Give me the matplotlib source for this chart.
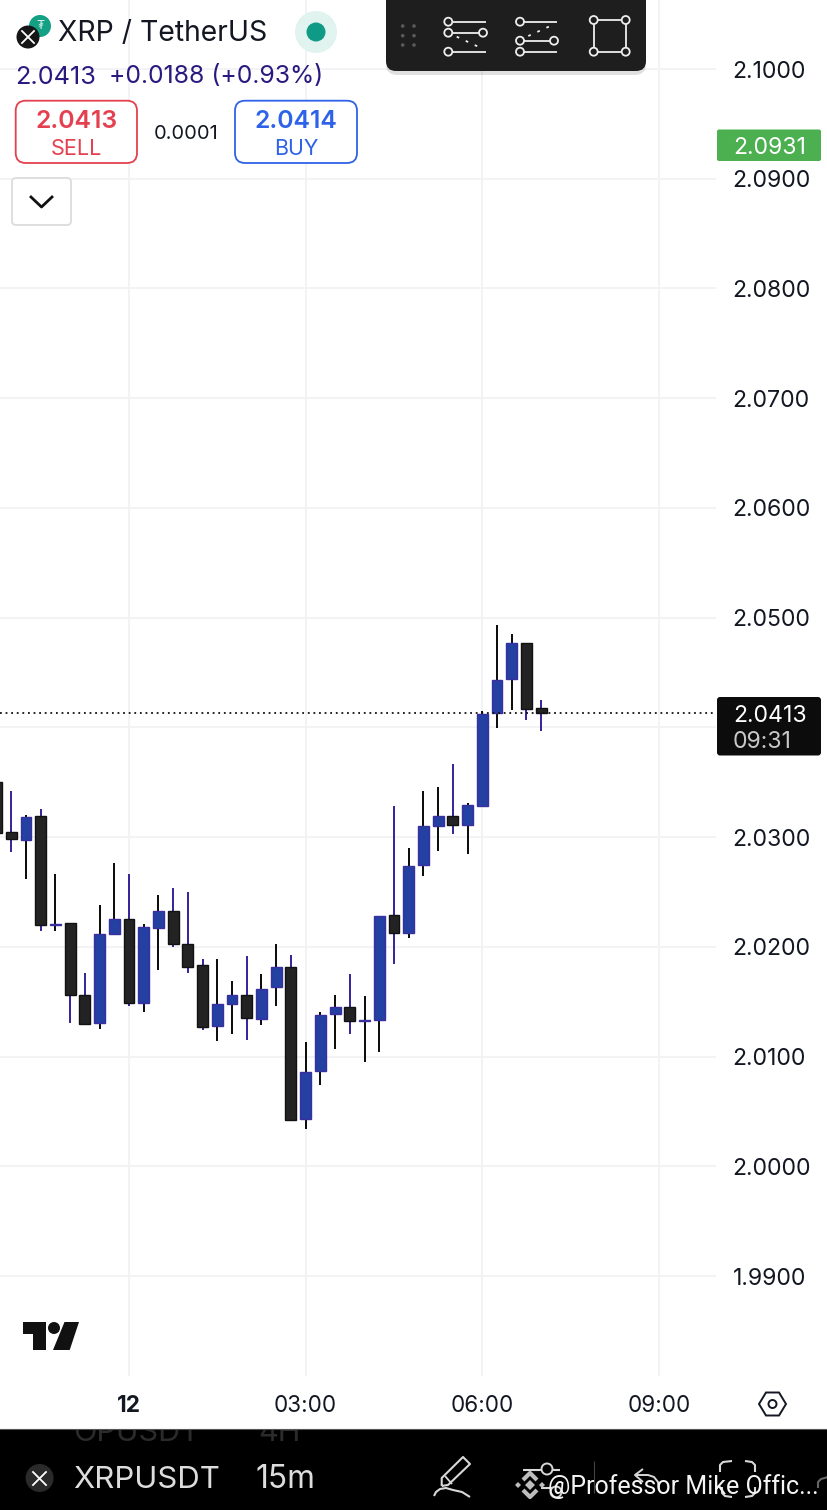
import numpy as np
import matplotlib
matplotlib.use("Agg")
import matplotlib.pyplot as plt
from matplotlib.patches import Circle, FancyBboxPatch, Polygon, Rectangle

plt.rcParams["font.family"] = ["Inter", "DejaVu Sans"]

# candle index, 0 = the "12" tick, one candle = 15 minutes
candle_pos = np.arange(-9, 29)
opens = [2.0350, 2.0305, 2.0297, 2.0319, 2.0220, 2.0222, 2.0156, 2.0131, 2.0212, 2.0225,
         2.0149, 2.0217, 2.0233, 2.0203, 2.0183, 2.0128, 2.0148, 2.0156, 2.0134, 2.0163,
         2.0182, 2.0043, 2.0087, 2.0139, 2.0145, 2.0132, 2.0133, 2.0229, 2.0213, 2.0275,
         2.0310, 2.0319, 2.0311, 2.0328, 2.0413, 2.0444, 2.0477, 2.0418]
closes = [2.0304, 2.0298, 2.0318, 2.0220, 2.0221, 2.0156, 2.0130, 2.0212, 2.0225, 2.0149,
          2.0218, 2.0233, 2.0203, 2.0182, 2.0127, 2.0148, 2.0156, 2.0135, 2.0162, 2.0182,
          2.0042, 2.0086, 2.0138, 2.0145, 2.0132, 2.0133, 2.0228, 2.0213, 2.0274, 2.0310,
          2.0319, 2.0311, 2.0329, 2.0412, 2.0443, 2.0477, 2.0417, 2.0413]
highs = [2.0352, 2.0342, 2.0320, 2.0326, 2.0266, 2.0222, 2.0176, 2.0238, 2.0276, 2.0266,
         2.0221, 2.0247, 2.0254, 2.0250, 2.0189, 2.0189, 2.0169, 2.0192, 2.0175, 2.0203,
         2.0193, 2.0113, 2.0141, 2.0156, 2.0175, 2.0155, 2.0228, 2.0328, 2.0290, 2.0342,
         2.0346, 2.0367, 2.0331, 2.0415, 2.0493, 2.0485, 2.0477, 2.0425]
lows = [2.0304, 2.0286, 2.0262, 2.0214, 2.0214, 2.0131, 2.0130, 2.0125, 2.0212, 2.0146,
        2.0141, 2.0179, 2.0200, 2.0176, 2.0124, 2.0114, 2.0121, 2.0115, 2.0129, 2.0146,
        2.0042, 2.0034, 2.0074, 2.0107, 2.0121, 2.0095, 2.0104, 2.0184, 2.0208, 2.0265,
        2.0287, 2.0303, 2.0285, 2.0328, 2.0399, 2.0416, 2.0407, 2.0397]

price_ticks = [2.10, 2.09, 2.08, 2.07, 2.06, 2.05, 2.04, 2.03, 2.02, 2.01, 2.00, 1.99]
# the 2.0400 label sits under the last-price tag
price_labels = ["2.1000", "2.0900", "2.0800", "2.0700", "2.0600", "2.0500", "",
                "2.0300", "2.0200", "2.0100", "2.0000", "1.9900"]
time_ticks = [0, 12, 24, 36]
time_labels = ["12", "03:00", "06:00", "09:00"]
last_price = 2.0413

W, H = 828, 1510
CHART_R, CHART_B = 716, 1376
PX_PER_PRICE = 10973.0
PX_PER_CANDLE = 14.72

UP_BODY = "#2340a2"
UP_EDGE = "#3a2f9e"
DOWN_BODY = "#232323"
DOWN_EDGE = "#111111"
UP_WICK = "#000000"
DOWN_WICK = "#2a1a96"

fig = plt.figure(figsize=(W / 100, H / 100), dpi=100, facecolor="white")
ax = fig.add_axes([0, (H - CHART_B) / H, CHART_R / W, CHART_B / H])
ax.set_xlim(-129 / PX_PER_CANDLE, (CHART_R - 129) / PX_PER_CANDLE)
ax.set_ylim(2.10 - (CHART_B - 69) / PX_PER_PRICE, 2.10 + 69 / PX_PER_PRICE)
for s in ax.spines.values():
    s.set_visible(False)
ax.grid(True, color="#f2f2f4", lw=1.3)
ax.set_axisbelow(True)

ax.yaxis.tick_right()
ax.set_yticks(price_ticks)
ax.set_yticklabels(price_labels)
ax.tick_params(axis="y", length=0, pad=12, labelsize=16.6, labelcolor="#131722")
ax.set_xticks(time_ticks)
ax.set_xticklabels(time_labels)
ax.tick_params(axis="x", length=0, pad=14, labelsize=16.2, labelcolor="#131722")
ax.get_xticklabels()[0].set_fontweight("bold")

o = np.array(opens)
c = np.array(closes)
is_up = c >= o
ax.vlines(candle_pos, lows, highs, colors=[UP_WICK if u else DOWN_WICK for u in is_up],
          lw=1.35, zorder=3)
ax.bar(candle_pos, np.abs(c - o), bottom=np.minimum(o, c), width=0.74,
       color=[UP_BODY if u else DOWN_BODY for u in is_up],
       edgecolor=[UP_EDGE if u else DOWN_EDGE for u in is_up], lw=1.0, zorder=4)
ax.axhline(last_price, color="#111111", lw=1.3, ls=(0, (1, 2.1)), zorder=5)

# everything that is not the chart goes in a pixel-coordinate layer on top
ui = fig.add_axes([0, 0, 1, 1], facecolor="none")
ui.set_xlim(0, W)
ui.set_ylim(H, 0)
ui.axis("off")


def box(x0, y0, x1, y1, r=0, fc="none", ec="none", lw=1.0, z=2, alpha=None):
    p = FancyBboxPatch((x0 + r, y0 + r), x1 - x0 - 2 * r, y1 - y0 - 2 * r,
                       boxstyle="round,pad=%g,rounding_size=%g" % (r, r),
                       fc=fc, ec=ec, lw=lw, zorder=z, alpha=alpha)
    ui.add_patch(p)


def dot(x, y, r, fc, ec="none", lw=1.0, z=3):
    ui.add_patch(Circle((x, y), r, fc=fc, ec=ec, lw=lw, zorder=z))


def label(x, y, s, size, color, ha="left", weight="normal", z=6, family=None):
    # va center sits a bit high for digits and caps, so nudge it down
    return ui.text(x, y + 2, s, fontsize=size, color=color, ha=ha, va="center",
                   fontweight=weight, zorder=z, family=family or plt.rcParams["font.family"])


def seg(xs, ys, ls="-", lw=1.3, color="#eeeeee", z=4):
    ui.plot(xs, ys, color=color, lw=lw, ls=ls, zorder=z, solid_capstyle="butt")


# header
dot(40, 26, 11, "#14a085")
label(40, 24, "₮", 9, "#d8f0ea", ha="center")
dot(28, 37, 11.5, "#161616", z=4)
ui.plot([22, 34], [31, 43], color="white", lw=1.3, zorder=5)
ui.plot([22, 34], [43, 31], color="white", lw=1.3, zorder=5)
label(58, 32, "XRP / TetherUS", 20.4, "#131722")
dot(316, 32, 21, "#e0f3ef")
dot(316, 32, 9.5, "#0f9a85", z=4)
label(15, 75, "2.0413", 18.2, "#2a1a80")
label(109, 75, "+0.0188 (+0.93%)", 17.8, "#2a1a80")

box(15.7, 100.7, 137, 163, r=10, fc="white", ec="#e5404f", lw=1.3)
label(77, 120, "2.0413", 17.8, "#e5404f", ha="center", weight="semibold")
label(76, 147, "SELL", 15.6, "#e5404f", ha="center")
label(186, 132, "0.0001", 14.4, "#131722", ha="center")
box(235, 100.7, 357, 163, r=10, fc="white", ec="#2e62e8", lw=1.3)
label(296, 120, "2.0414", 17.8, "#2e62e8", ha="center", weight="semibold")
label(296, 147, "BUY", 15.4, "#2e62e8", ha="center")
box(12, 178, 71, 225, r=4, fc="white", ec="#dcdcdc", lw=1.3)
ui.plot([31, 41.5, 52], [197, 207, 197], color="#111111", lw=2.0, zorder=4)

# drawing toolbar
box(386, -20, 646, 75, r=11, fc="#000000", z=2, alpha=0.12)
box(386, -20, 646, 71, r=10, fc="#1e1e1e", z=3)
for dx in [402.7, 414]:
    for dy in [26, 35.7, 45]:
        dot(dx, dy, 1.8, "#5a5a5a", z=4)
seg([448.3, 485.7], [21.7, 21.7])
seg([448.3, 483], [32.7, 32.7])
seg([448.3, 485.7], [51.7, 51.7])
seg([456.7, 481.7], [36.7, 48.3], ls=(0, (1.5, 4)))
for cx, cy in [(448.3, 21.7), (448.3, 32.7), (483, 32.7), (448.3, 51.7)]:
    dot(cx, cy, 4, "#1e1e1e", ec="#eeeeee", lw=1.3, z=5)
seg([520, 557], [21.7, 21.7])
seg([520, 554], [40.7, 40.7])
seg([520, 557], [51.7, 51.7])
seg([528.3, 554], [36, 24.3], ls=(0, (1.5, 4)))
for cx, cy in [(520, 21.7), (520, 40.7), (554, 40.7), (520, 51.7)]:
    dot(cx, cy, 4, "#1e1e1e", ec="#eeeeee", lw=1.3, z=5)
seg([593.7, 625.7, 625.7, 593.7, 593.7], [20, 20, 51.7, 51.7, 20])
for cx, cy in [(593.7, 20), (625.7, 20), (593.7, 51.7), (625.7, 51.7)]:
    dot(cx, cy, 4, "#1e1e1e", ec="#eeeeee", lw=1.3, z=5)

# price tags
box(717, 129.5, 821, 161, r=2, fc="#4caf50", z=4)
label(733, 145.5, "2.0931", 16.6, "#ffffff")
box(717, 697, 821, 755.5, r=3, fc="#0c0c0c", z=4)
label(733, 713.5, "2.0413", 16.6, "#ffffff")
label(733, 740, "09:31", 16.6, "#c8c8c8")

# TradingView mark
LOGO = "#111111"
ui.add_patch(Polygon([(22.7, 1322), (46, 1322), (46, 1350), (33, 1350), (33, 1334), (22.7, 1334)],
                     fc=LOGO, ec="none", zorder=3))
dot(54, 1328, 6, LOGO)
ui.add_patch(Polygon([(64.5, 1322), (79, 1322), (69.7, 1350), (53, 1350)], fc=LOGO, ec="none", zorder=3))

# settings hexagon next to the time axis
ui.add_patch(Polygon([(759, 1404), (766, 1392.5), (779, 1392.5), (786, 1404), (779, 1415.5), (766, 1415.5)],
                     fc="none", ec="#131722", lw=1.4, zorder=3))
dot(772.5, 1404, 4, "none", ec="#131722", lw=1.4)

# bottom bar
ui.add_patch(Rectangle((0, 1429), W, 81, fc="#000000", ec="none", zorder=4))
label(73, 1431, "OPUSDT", 22, "#2b2b2b", z=5)
label(258, 1431, "4H", 22, "#2b2b2b", z=5)
ui.add_patch(Rectangle((0, 1417), W, 12, fc="white", ec="none", zorder=5.5))
ui.plot([0, W], [1429, 1429], color="#555555", lw=0.8, zorder=6)
dot(39.6, 1478, 14, "#2a2a2a", z=5)
ui.plot([33, 46], [1472, 1485], color="white", lw=1.3, zorder=6)
ui.plot([33, 46], [1485, 1472], color="white", lw=1.3, zorder=6)
label(73, 1478, "XRPUSDT", 22.4, "#dddddd")
label(256, 1478, "15m", 22.8, "#dddddd")

BAR_ICON = "#d8d8d8"
# pen
seg([441.7, 441.7, 463, 470, 448, 441.7], [1486, 1478, 1457, 1464, 1485, 1486], color=BAR_ICON, lw=1.5, z=5)
seg([445, 452], [1476, 1484], color=BAR_ICON, z=5)
seg([434, 436, 440, 446, 453, 462, 470], [1496, 1492, 1489, 1488, 1490, 1492, 1497], color=BAR_ICON, lw=1.5, z=5)
# sliders
seg([522.7, 560], [1470, 1470], color=BAR_ICON, lw=1.5, z=5)
dot(547, 1469, 5.5, "#000000", ec=BAR_ICON, lw=1.4, z=5.2)
seg([541, 560], [1488, 1488], color=BAR_ICON, lw=1.5, z=5)
dot(556, 1492, 5.5, "#000000", ec=BAR_ICON, lw=1.4, z=5.2)
# diamond mark behind the watermark
seg([523, 530, 537], [1480, 1473, 1480], color="#bdbdbd", lw=3, z=5.4)
seg([523, 530, 537], [1490, 1497, 1490], color="#bdbdbd", lw=3, z=5.4)
ui.add_patch(Polygon([(530, 1480), (535, 1485), (530, 1490), (525, 1485)], fc="#bdbdbd", ec="none", zorder=5.4))
ui.add_patch(Polygon([(518, 1482), (521, 1485), (518, 1488), (515, 1485)], fc="#bdbdbd", ec="none", zorder=5.4))
ui.add_patch(Polygon([(542, 1482), (545, 1485), (542, 1488), (539, 1485)], fc="#bdbdbd", ec="none", zorder=5.4))
# divider, back arrow, screenshot brackets
seg([594.3, 594.3], [1461, 1493], color="#444444", lw=0.8, z=5)
seg([643, 635, 643], [1469, 1475, 1482], color=BAR_ICON, lw=1.4, z=5)
seg([635, 648, 654, 658, 659], [1475, 1475, 1477, 1482, 1490], color=BAR_ICON, lw=1.4, z=5)
seg([720, 720, 723, 732], [1472, 1465, 1462, 1461], color=BAR_ICON, lw=1.5, z=5)
seg([745, 752, 755, 755], [1461, 1462, 1465, 1472], color=BAR_ICON, lw=1.5, z=5)
seg([722, 722, 725, 732], [1487, 1493, 1496, 1497], color=BAR_ICON, lw=1.5, z=5)
seg([745, 752, 755, 755], [1497, 1496, 1493, 1487], color=BAR_ICON, lw=1.5, z=5)
seg([818, 818, 821, 828], [1488, 1482, 1479, 1477], color="#666666", lw=1.5, z=5)
label(548, 1485, "@Professor Mike Offic...", 18, "#f5f5f5", z=7, family="Roboto")

fig.savefig("out.png", dpi=100, facecolor="white")
